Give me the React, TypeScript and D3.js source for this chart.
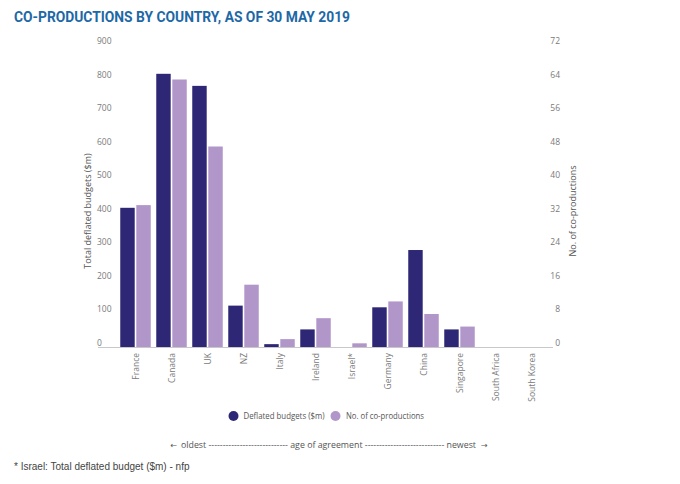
import React from 'react';
import * as d3 from 'd3';

// countries in order of agreement age (oldest -> newest)
const countries = ['France', 'Canada', 'UK', 'NZ', 'Italy', 'Ireland', 'Israel*', 'Germany', 'China', 'Singapore', 'South Africa', 'South Korea'];
const budgets = [417, 817, 781, 125, 10, 54, 0, 120, 291, 54, 0, 0]; // deflated $m
const coProductions = [34, 64, 48, 15, 2, 7, 1, 11, 8, 5, 0, 0];
const leftTicks = [0, 100, 200, 300, 400, 500, 600, 700, 800, 900];
const rightTicks = [0, 8, 16, 24, 32, 40, 48, 56, 64, 72];

const DARK = '#2e2775';
const LIGHT = '#b196c9';
const TICK = '#7a7a7a';
const FONT = "'Open Sans', sans-serif";

export default function App() {
  const width = 680;
  const height = 484;

  const x0 = d3.scaleBand().domain(countries).range([117.5, 549.5]).paddingInner(0.153).paddingOuter(0.0765);
  const x1 = d3.scaleBand().domain(['budget', 'count']).range([0, x0.bandwidth()]).paddingInner(0.1);
  const yLeft = d3.scaleLinear().domain([0, 900]).range([347.5, 46]);
  const yRight = d3.scaleLinear().domain([0, 72]).range([347.5, 46]);

  return (
    <svg width={width} height={height} style={{ position: 'absolute', left: 0, top: 0, background: '#fff' }}>
      <text x={14} y={22} fontFamily="Roboto, sans-serif" fontWeight={700} fontSize={14.5} fill="#1d68a6" textLength={336} lengthAdjust="spacingAndGlyphs">
        CO-PRODUCTIONS BY COUNTRY, AS OF 30 MAY 2019
      </text>

      {/* left axis ticks */}
      {leftTicks.map(t => (
        <text key={'l' + t} x={97} y={yLeft(t) - 2} fontFamily={FONT} fontSize={8.5} fill={TICK}>{t}</text>
      ))}
      {rightTicks.map(t => (
        <text key={'r' + t} x={560} y={yRight(t) - 2} fontFamily={FONT} fontSize={8.5} fill={TICK} textAnchor="end">{t}</text>
      ))}

      <text transform="translate(91,211) rotate(-90)" textAnchor="middle" fontFamily={FONT} fontSize={9} fill="#555">
        Total deflated budgets ($m)
      </text>
      <text transform="translate(576,211) rotate(-90)" textAnchor="middle" fontFamily={FONT} fontSize={9} fill="#555">
        No. of co-productions
      </text>

      {/* bars */}
      {countries.map((c, i) => (
        <g key={c} transform={`translate(${x0(c)},0)`}>
          {budgets[i] > 0 && (
            <rect x={x1('budget')} y={yLeft(budgets[i])} width={x1.bandwidth()} height={yLeft(0) - yLeft(budgets[i])} fill={DARK} />
          )}
          {coProductions[i] > 0 && (
            <rect x={x1('count')} y={yRight(coProductions[i])} width={x1.bandwidth()} height={yRight(0) - yRight(coProductions[i])} fill={LIGHT} />
          )}
        </g>
      ))}

      <line x1={98} x2={553} y1={347.5} y2={347.5} stroke="#c8c8c8" strokeWidth={1} />

      {/* category labels */}
      {countries.map(c => (
        <text key={'x' + c} transform={`translate(${(x0(c) as number) + x0.bandwidth() / 2 + 3},353) rotate(-90)`}
          textAnchor="end" fontFamily={FONT} fontSize={8.5} fill={TICK}>{c}</text>
      ))}

      {/* legend */}
      <circle cx={233.5} cy={416} r={5} fill={DARK} />
      <text x={243.5} y={419} fontFamily={FONT} fontSize={8.5} fill="#555" textLength={81} lengthAdjust="spacingAndGlyphs">Deflated budgets ($m)</text>
      <circle cx={335.5} cy={416} r={5} fill={LIGHT} />
      <text x={346} y={419} fontFamily={FONT} fontSize={8.5} fill="#555" textLength={78} lengthAdjust="spacingAndGlyphs">No. of co-productions</text>

      {/* age-of-agreement guide */}
      <text x={170.5} y={448} fontFamily="'DejaVu Sans', sans-serif" fontSize={8} fill="#555">←</text>
      <text x={181} y={448} fontFamily={FONT} fontSize={8.5} fill="#555" textLength={295} lengthAdjust="spacingAndGlyphs">
        oldest ---------------------------- age of agreement ---------------------------- newest
      </text>
      <text x={481} y={448} fontFamily="'DejaVu Sans', sans-serif" fontSize={8} fill="#555">→</text>

      <text x={14} y={470} fontFamily="'Liberation Sans', sans-serif" fontSize={10} fill="#444">
        * Israel: Total deflated budget ($m) - nfp
      </text>
    </svg>
  );
}
